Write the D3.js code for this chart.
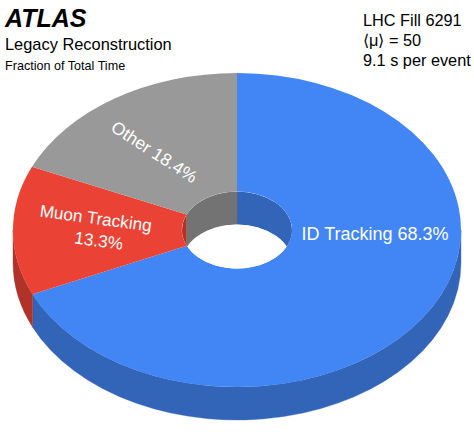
<!DOCTYPE html>
<html><head><meta charset="utf-8">
<script src="https://cdn.jsdelivr.net/npm/d3@7"></script>
<style>html,body{margin:0;background:#fff}svg{display:block}text{font-family:"Liberation Sans",Arial,sans-serif}</style>
</head><body><div id="c"></div>
<script>
const categories = ["ID Tracking","Muon Tracking","Other"];
const values = [68.3,13.3,18.4];
const colors = ["#4285f4","#ea4335","#999999"];
const sideColors = ["#3264b7","#b03228","#737373"];
const W=474,H=445,cx=237,cy=230,R=224,r=55,tilt=0.701,depth=33;
const svg=d3.select("#c").append("svg").attr("width",W).attr("height",H).attr("viewBox",[0,0,W,H]);
const pie=d3.pie().sort(null).value(d=>d)(values);
const d3depth=depth/tilt;
const g=svg.append("g").attr("transform",`translate(${cx},${cy}) scale(1,${tilt})`);
const defs=svg.append("defs");
defs.append("clipPath").attr("id","hole").append("circle").attr("r",r);
const HP=Math.PI/2;
function wall(rad,a0,a1){
  const p=d3.path();
  p.arc(0,0,rad,a0-HP,a1-HP,false);
  p.arc(0,d3depth,rad,a1-HP,a0-HP,true);
  p.closePath();
  return p.toString();
}
pie.forEach((s,i)=>{
  const a0=Math.max(s.startAngle,HP),a1=Math.min(s.endAngle,3*HP);
  if(a1>a0) g.append("path").attr("d",wall(R,a0,a1)).attr("fill",sideColors[i]).attr("stroke",sideColors[i]).attr("stroke-width",.4);
});
const arc=d3.arc().innerRadius(r).outerRadius(R);
g.selectAll("path.top").data(pie).join("path").attr("class","top").attr("d",arc).attr("fill",(d,i)=>colors[i]);
const hole=g.append("g").attr("clip-path","url(#hole)");
hole.append("circle").attr("r",r).attr("fill","#fff");
pie.forEach((s,i)=>{
  [[s.startAngle,Math.min(s.endAngle,HP)],[Math.max(s.startAngle,3*HP),s.endAngle]].forEach(([a0,a1])=>{
    if(a1>a0) hole.append("path").attr("d",wall(r,a0,a1)).attr("fill",sideColors[i]).attr("stroke",sideColors[i]).attr("stroke-width",.4);
  });
});
hole.append("circle").attr("cy",d3depth).attr("r",r).attr("fill","#fff");
function label(x,y,rot,lines,size,offset=0){
  const t=svg.append("text").attr("transform",`translate(${x},${y}) rotate(${rot})`).attr("text-anchor","middle").attr("fill","#fff").attr("font-size",size);
  lines.forEach((l,i)=>t.append("tspan").attr("x",i?offset:0).attr("dy",i?size*1.28:0).text(l));
}
label(375,240,0,[`${categories[0]} ${values[0]}%`],18);
label(95,224,7.7,[categories[1],`${values[1]}%`],17.2,6);
label(151,157,33,[`${categories[2]} ${values[2]}%`],17.5);
const T=(x,y,s,size,extra={})=>{const t=svg.append("text").attr("x",x).attr("y",y).attr("font-size",size).attr("fill","#000").text(s);Object.entries(extra).forEach(([k,v])=>t.attr(k,v));};
const headerLeft=[["ATLAS",27,25,{"font-weight":"bold","font-style":"italic"}],["Legacy Reconstruction",50,16.4],["Fraction of Total Time",69.5,12.6]];
headerLeft.forEach(([s,y,z,e])=>T(5,y,s,z,e));
const headerRight=["LHC Fill 6291","⟨μ⟩ = 50","9.1 s per event"];
headerRight.forEach((s,i)=>T(363,26+i*20,s,16.3));
</script></body></html>
